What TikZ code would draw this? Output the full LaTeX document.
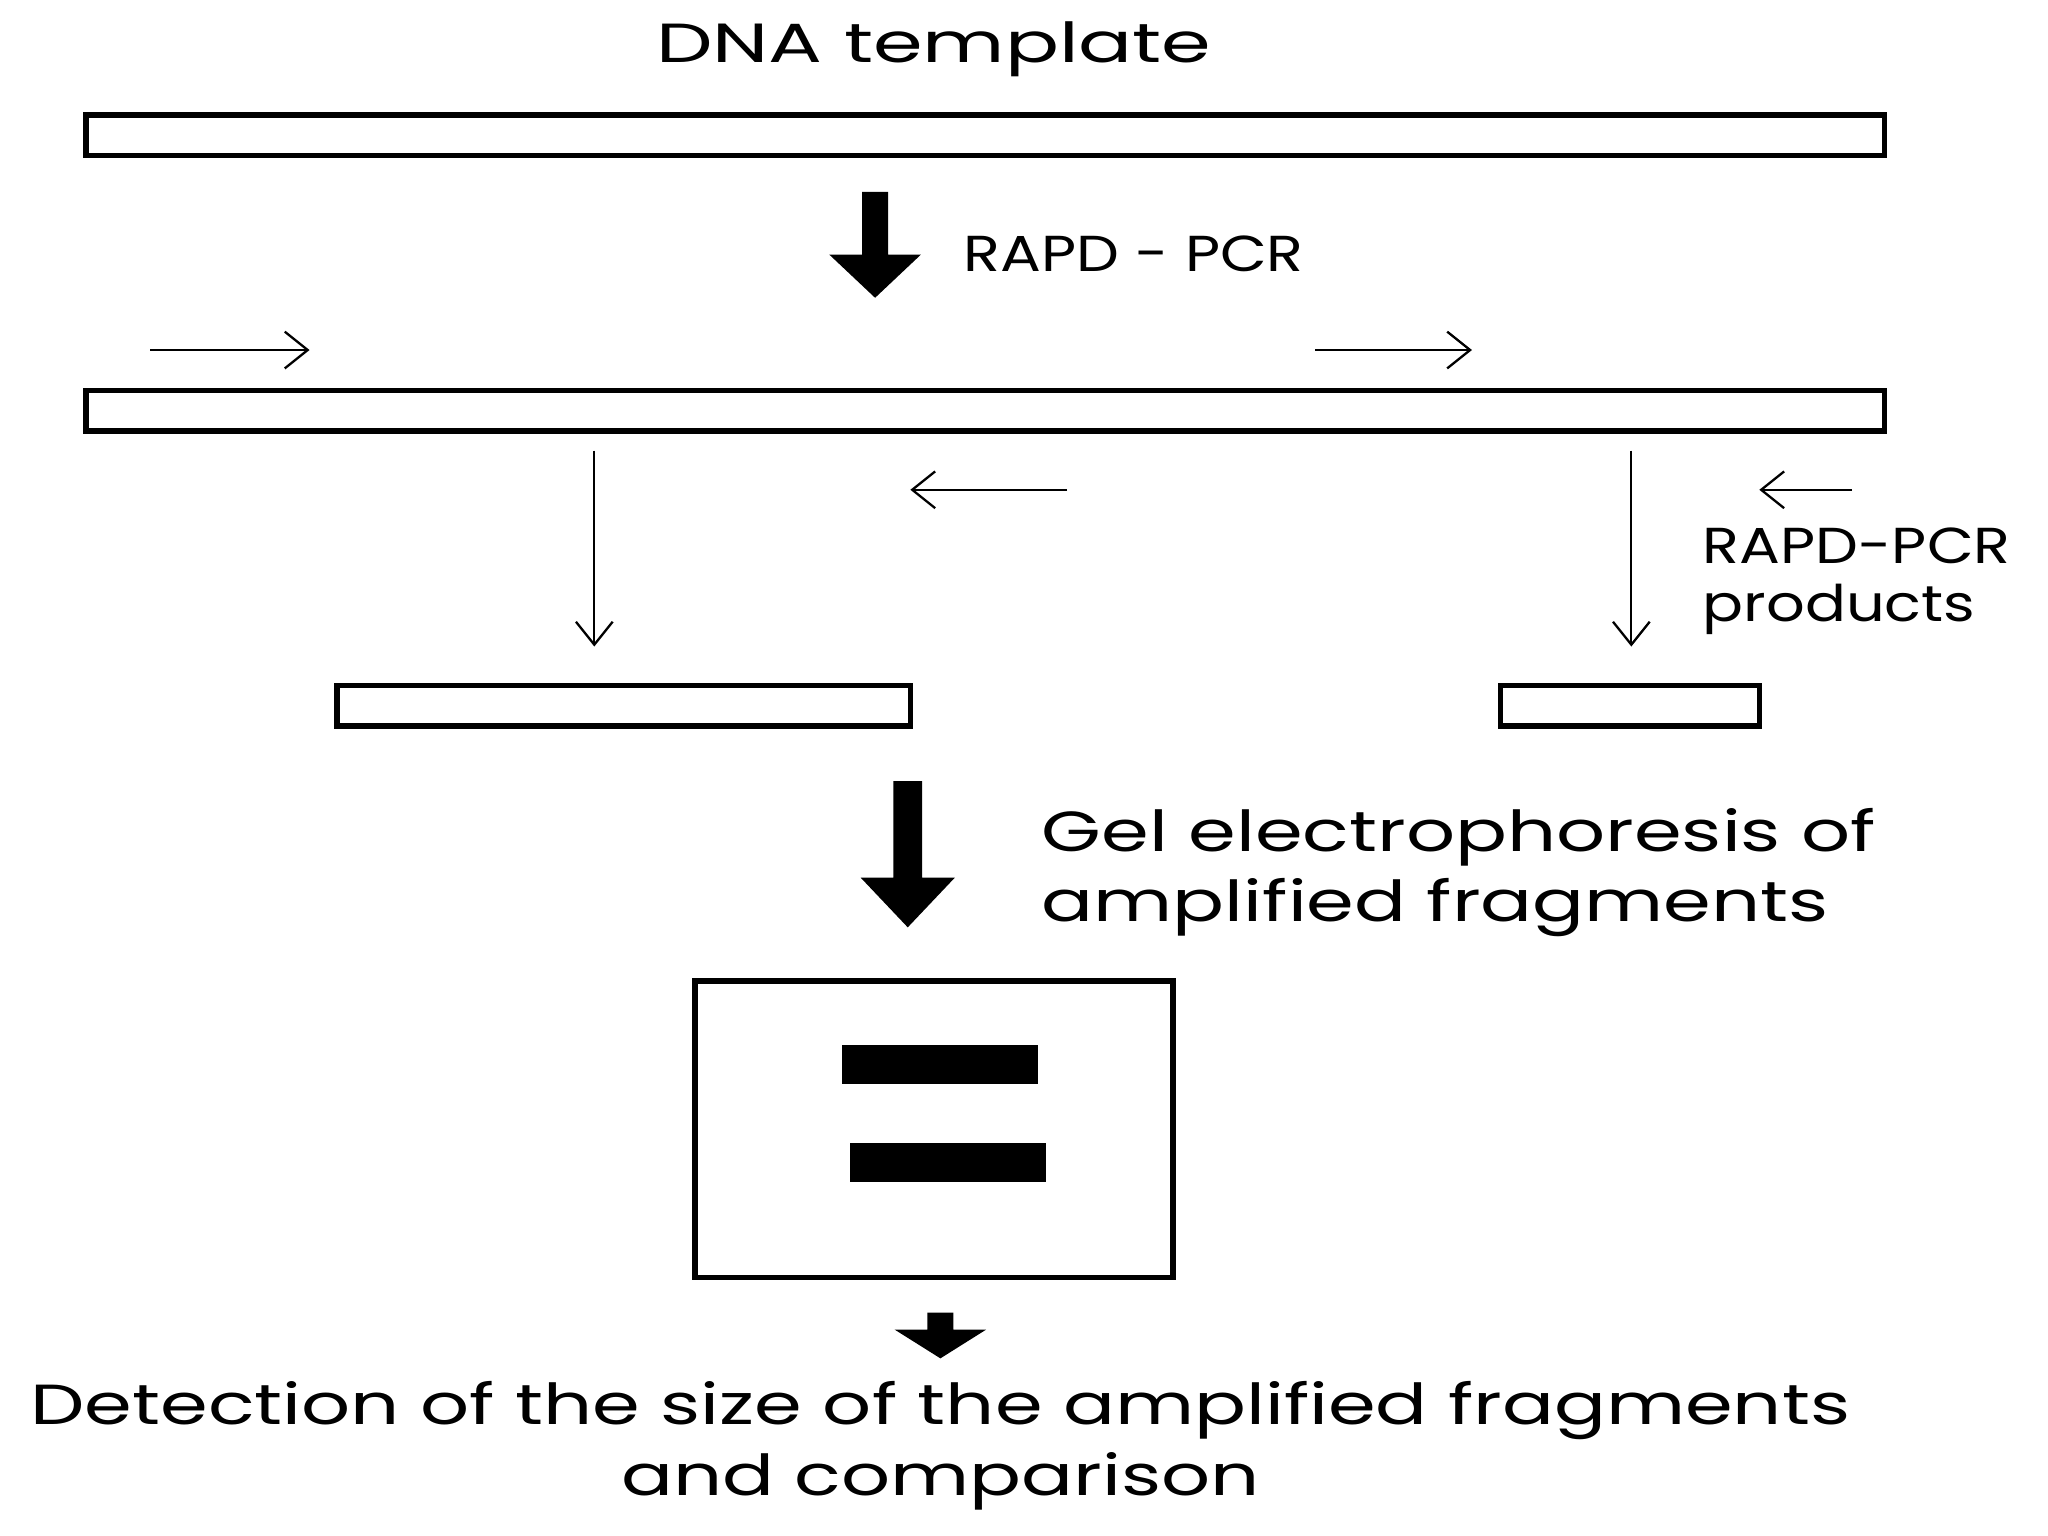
\documentclass[tikz,border=0pt]{standalone}
\usepackage{fontspec}
\setmainfont{Poppins}
\newfontfamily\wa[FakeStretch=1.45]{Poppins}
\newfontfamily\wb[FakeStretch=1.36]{Poppins}
\newfontfamily\wc[FakeStretch=1.2]{Poppins}
\usetikzlibrary{arrows.meta}
\begin{document}
\begin{tikzpicture}[x=0.01cm,y=-0.01cm,
  bar/.style={draw,line width=1.2pt},
  thin/.style={line width=0.5pt,-{Straight Barb[length=5pt,width=8pt]}},
  lbl/.style={inner sep=0pt}]
\useasboundingbox (0,0) rectangle (1568,1176);
\node[lbl,font=\wa\fontsize{12}{14}\selectfont] (t1) at (715,38) {DNA template};
\draw[bar] (66,88) rectangle (1443,119);
\fill (660,147) -- (680,147) -- (680,195) -- (705,195) -- (670,228) -- (635,195) -- (660,195) -- cycle;
\node[lbl,anchor=west,font=\wc\fontsize{11}{13}\selectfont] (l1) at (737,194) {RAPD - PCR};
\coordinate (a1) at (115,268); \coordinate (a2) at (237,268);
\coordinate (a3) at (1007,268); \coordinate (a4) at (1127,268);
\draw[thin] (a1) -- (a2); \draw[thin] (a3) -- (a4);
\draw[bar] (66,299) rectangle (1443,330);
\coordinate (d1) at (455,345); \coordinate (d2) at (455,495);
\coordinate (d3) at (1249,345); \coordinate (d4) at (1249,495);
\draw[thin] (d1) -- (d2); \draw[thin] (d3) -- (d4);
\coordinate (b1) at (817,375); \coordinate (b2) at (697,375);
\coordinate (b3) at (1418,375); \coordinate (b4) at (1347,375);
\draw[thin] (b1) -- (b2); \draw[thin] (b3) -- (b4);
\node[lbl,anchor=west,align=left,font=\wc\fontsize{11}{12.5}\selectfont] (l2) at (1303,445) {RAPD-PCR\\products};
\draw[bar] (258,525) rectangle (697,556);
\draw[bar] (1149,525) rectangle (1347,556);
\fill (684,598) -- (706,598) -- (706,672) -- (731,672) -- (695,710) -- (659,672) -- (684,672) -- cycle;
\node[lbl,anchor=west,align=left,font=\wb\fontsize{12.3}{15.3}\selectfont] (l3) at (797,668) {Gel electrophoresis of\\amplified fragments};
\draw[bar] (532,751) rectangle (898,978);
\fill (645,800) rectangle (795,830);
\fill (651,875) rectangle (801,905);
\fill (710,1005) -- (730,1005) -- (730,1018) -- (755,1018) -- (720,1040) -- (685,1018) -- (710,1018) -- cycle;
\node[lbl,align=center,font=\wb\fontsize{12.3}{15.6}\selectfont] (l4) at (720,1107) {Detection of the size of the amplified fragments\\and comparison};
\end{tikzpicture}
\end{document}
